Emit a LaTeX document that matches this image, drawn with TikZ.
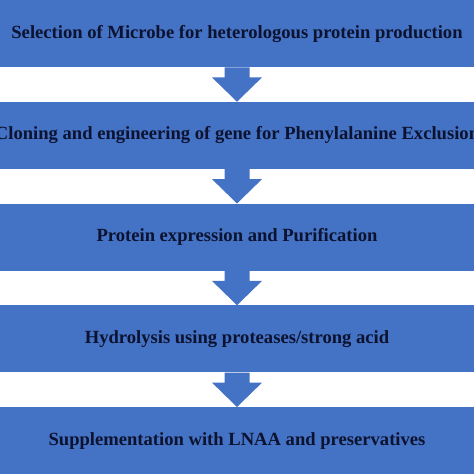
\documentclass[tikz,border=0pt]{standalone}
\usepackage{fontspec}
\setmainfont{Liberation Serif}
\definecolor{boxblue}{HTML}{4472C4}
\definecolor{txt}{HTML}{0C1330}
\begin{document}
\begin{tikzpicture}[x=1pt,y=1pt,
  stepbox/.style={fill=boxblue,draw=none,minimum width=474pt,minimum height=67pt,inner sep=0pt,
    font=\fontsize{18.6}{20}\selectfont\bfseries,text=txt,anchor=north},
  flowarrow/.style={fill=boxblue,draw=none}]
\useasboundingbox (0,0) rectangle (474,474);
\clip (0,0) rectangle (474,474);
\node[stepbox] (b1) at (237,474) {Selection of Microbe for heterologous protein production};
\node[stepbox] (b2) at (237,372.25) {Cloning and engineering of gene for Phenylalanine Exclusion};
\node[stepbox] (b3) at (237,270.5) {Protein expression and Purification};
\node[stepbox] (b4) at (237,168.75) {Hydrolysis using proteases/strong acid};
\node[stepbox] (b5) at (237,67) {Supplementation with LNAA and preservatives};
\foreach \a/\b in {b1/b2,b2/b3,b3/b4,b4/b5}{
  \fill[flowarrow] ([xshift=-12.5pt]\a.south) -- ([xshift=-12.5pt,yshift=-10pt]\a.south)
    -- ([xshift=-25pt,yshift=-10pt]\a.south) -- (\b.north)
    -- ([xshift=25pt,yshift=-10pt]\a.south) -- ([xshift=12.5pt,yshift=-10pt]\a.south)
    -- ([xshift=12.5pt]\a.south) -- cycle;
}
\end{tikzpicture}
\end{document}
